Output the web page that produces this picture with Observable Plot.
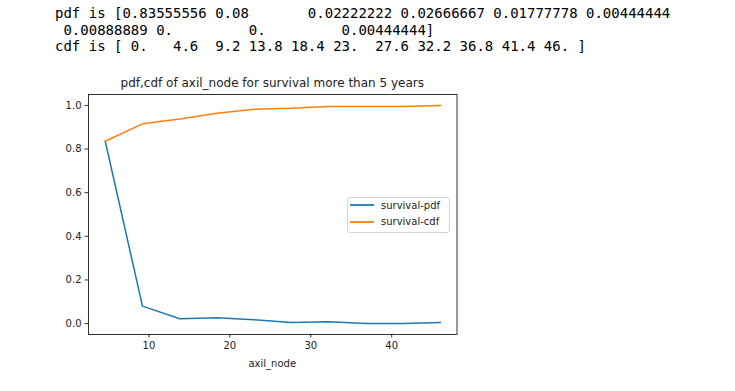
<!DOCTYPE html>
<html>
<head>
<meta charset="utf-8">
<script src="https://cdn.jsdelivr.net/npm/d3@7"></script>
<script src="https://cdn.jsdelivr.net/npm/@observablehq/plot@0.6"></script>
<style>
  html, body { margin: 0; padding: 0; background: #fff; width: 735px; height: 391px; overflow: hidden; }
  #wrap { position: relative; width: 735px; height: 391px; }
  pre#out { position: absolute; left: 55px; top: 5px; margin: 0; font-family: "DejaVu Sans Mono", monospace; font-size: 14px; line-height: 16.6px; color: #000; }
  #title { position: absolute; left: 88px; width: 368.5px; top: 76px; text-align: center; font-family: "DejaVu Sans", sans-serif; font-size: 12px; line-height: 14px; color: #222; white-space: nowrap; }
  #xlabel { position: absolute; left: 88px; width: 368.5px; top: 357px; text-align: center; font-family: "DejaVu Sans", sans-serif; font-size: 10px; line-height: 14px; color: #222; }
  #chart { position: absolute; left: 0; top: 60px; }
  #legend { position: absolute; left: 347px; top: 197px; width: 103px; height: 36px; box-sizing: border-box; border: 1px solid #d5d5d5; border-radius: 3px; background: rgba(255,255,255,0.8); font-family: "DejaVu Sans", sans-serif; font-size: 10px; color: #222; }
  .sw { position: absolute; left: 2px; width: 24px; height: 2px; opacity: 0.9; }
  .lt { position: absolute; left: 33px; height: 14px; line-height: 14px; white-space: nowrap; }
</style>
</head>
<body>
<div id="wrap">
<pre id="out"></pre>
<div id="title"></div>
<div id="chart"></div>
<div id="legend"></div>
<div id="xlabel"></div>
</div>
<script>
// Data
const binEdges = [0, 4.6, 9.2, 13.8, 18.4, 23, 27.6, 32.2, 36.8, 41.4, 46];
const xValues = [4.6, 9.2, 13.8, 18.4, 23, 27.6, 32.2, 36.8, 41.4, 46];
const pdfValues = [0.83555556, 0.08, 0.02222222, 0.02666667, 0.01777778, 0.00444444, 0.00888889, 0, 0, 0.00444444];
const cdfValues = [0.83555556, 0.91555556, 0.93777778, 0.96444444, 0.98222222, 0.98666667, 0.99555556, 0.99555556, 0.99555556, 1.0];
const seriesNames = ["survival-pdf", "survival-cdf"];
const seriesColors = ["#1f77b4", "#ff7f0e"];
const xTicks = [10, 20, 30, 40];
const yTicks = [0, 0.2, 0.4, 0.6, 0.8, 1.0];
const titleText = "pdf,cdf of axil_node for survival more than 5 years";
const xLabelText = "axil_node";
const outputLines = [
  "pdf is [0.83555556 0.08       0.02222222 0.02666667 0.01777778 0.00444444",
  " 0.00888889 0.         0.         0.00444444]",
  "cdf is [ 0.   4.6  9.2 13.8 18.4 23.  27.6 32.2 36.8 41.4 46. ]"
];

document.getElementById("out").textContent = outputLines.join("\n");
document.getElementById("title").textContent = titleText;
document.getElementById("xlabel").textContent = xLabelText;

const rows = [];
xValues.forEach((x, i) => {
  rows.push({x, y: pdfValues[i], s: seriesNames[0]});
});
xValues.forEach((x, i) => {
  rows.push({x, y: cdfValues[i], s: seriesNames[1]});
});

const xPad = (xValues[xValues.length - 1] - xValues[0]) * 0.05;
const chart = Plot.plot({
  width: 735,
  height: 320,
  marginLeft: 88,
  marginRight: 278.5,
  marginTop: 34,
  marginBottom: 46,
  style: {fontFamily: "DejaVu Sans, sans-serif", fontSize: "10px", color: "#222", background: "transparent"},
  x: {domain: [xValues[0] - xPad, xValues[xValues.length - 1] + xPad]},
  y: {domain: [-0.05, 1.05]},
  color: {domain: seriesNames, range: seriesColors},
  marks: [
    Plot.line(rows, {x: "x", y: "y", z: "s", stroke: "s", strokeWidth: 1.5, strokeLinejoin: "round", strokeLinecap: "square"}),
    Plot.frame({stroke: "#000", strokeWidth: 0.8}),
    Plot.axisX({ticks: xTicks, tickSize: 3.5, tickPadding: 3.5, strokeWidth: 0.8, stroke: "#000", label: null, fontSize: 10}),
    Plot.axisY({ticks: yTicks, tickSize: 3.5, tickPadding: 3.5, strokeWidth: 0.8, stroke: "#000", label: null, tickFormat: d3.format(".1f"), fontSize: 10})
  ]
});
document.getElementById("chart").appendChild(chart);

const legend = document.getElementById("legend");
const swTops = [6, 23];
const txtTops = [0.5, 17.2];
seriesNames.forEach((name, i) => {
  const sw = document.createElement("div");
  sw.className = "sw";
  sw.style.background = seriesColors[i];
  sw.style.top = swTops[i] + "px";
  const t = document.createElement("span");
  t.className = "lt";
  t.style.top = txtTops[i] + "px";
  t.textContent = name;
  legend.appendChild(sw);
  legend.appendChild(t);
});
</script>
</body>
</html>
